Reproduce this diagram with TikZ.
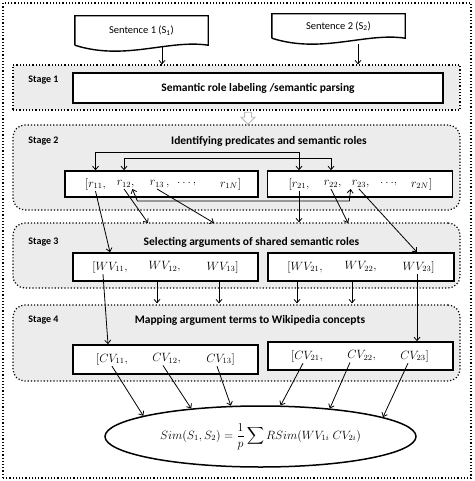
\documentclass[tikz,border=0pt]{standalone}
\usepackage{amsmath}
\usepackage{fontspec}
\setmainfont{Carlito}
\usetikzlibrary{positioning, calc, shapes.geometric, shapes.arrows, arrows.meta}
\tikzset{
    frame/.style={draw, line width=1.2pt, dotted, inner sep=0pt},
    stagebox/.style={frame, fill=gray!15, minimum width=447pt},
    stagelbl/.style={font=\bfseries\fontsize{10}{12}\selectfont},
    titlelbl/.style={font=\bfseries\fontsize{11.5}{13}\selectfont},
    rolebox/.style={draw, line width=1.5pt, fill=white, inner sep=0pt},
    entry/.style={font=\fontsize{12}{14}\selectfont, inner sep=1pt},
    sentence/.style={minimum width=133pt, inner sep=0pt, font=\fontsize{10.5}{12}\selectfont},
    ptr/.style={->, >={Straight Barb[length=3.5pt,width=6pt]}, line width=0.8pt},
    dptr/.style={ptr, <->}
}

\begin{document}
\begin{tikzpicture}[x=1pt, y=-1pt]
    \useasboundingbox (0,0) rectangle (474,481);
    \node[frame, minimum width=468pt, minimum height=475pt] (outer) at (237,240.5) {};

    % Sentences
    \node[sentence, minimum height=29pt] (s1) at (141.5,30.5) {Sentence 1 (S\textsubscript{1})};
    \node[sentence, minimum height=24pt] (s2) at (338.5,26) {Sentence 2 (S\textsubscript{2})};
    \foreach \s in {s1,s2}
        \draw[line width=1.4pt] (\s.south west) -- (\s.north west) -- (\s.north east) -- (\s.south east)
            .. controls +(-40,-6) and +(50,16) .. (\s.south west);

    % Stage 1
    \node[stagebox, minimum height=45pt] (st1) at (236.5,87.5) {};
    \node[stagelbl] (lbl1) at (43.5,80) {Stage 1};
    \node[rolebox, titlelbl, minimum width=370pt, minimum height=30pt] (srl) at (258,88) {Semantic role labeling /semantic parsing};
    \coordinate (s1out) at ($(s1.south)+(20.5,2)$);
    \coordinate (s2out) at ($(s2.south)+(19.5,6)$);
    \draw[ptr] (s1out) -- (s1out |- st1.north);
    \draw[ptr] (s2out) -- (s2out |- st1.north);

    \node[single arrow, shape border rotate=270, draw=gray!55, fill=white, line width=0.8pt,
        minimum height=12pt, inner sep=3pt, single arrow head extend=3.5pt] (flow) at (248,116.5) {};

    % Stage 2
    \node[stagebox, rounded corners=12pt, minimum height=85pt] (st2) at (236.5,167.5) {};
    \node[stagelbl] (lbl2) at (43.5,141) {Stage 2};
    \node[titlelbl] (ttl2) at (269,141) {Identifying predicates and semantic roles};
    \node[rolebox, minimum width=193pt, minimum height=26pt] (box2a) at (161.5,184) {};
    \node[rolebox, minimum width=185pt, minimum height=26pt] (box2b) at (360,184) {};
    \node[entry] (r11) at (95.5,184) {\llap{$[$}$r_{11}$\rlap{$,$}};
    \node[entry] (r12) at (124,184) {$r_{12}$\rlap{$,$}};
    \node[entry] (r13) at (157,184) {$r_{13}$\rlap{$\,,$}};
    \node[entry] (r1d) at (184,184) {$\ldots$\rlap{$\,,$}};
    \node[entry] (r1n) at (229,184) {$r_{1N}$\rlap{$]$}};
    \node[entry] (r21) at (299,184) {\llap{$[$}$r_{21}$\rlap{$,$}};
    \node[entry] (r22) at (331,184) {$r_{22}$\rlap{$,$}};
    \node[entry] (r23) at (359,184) {$r_{23}$\rlap{$,$}};
    \node[entry] (r2d) at (387,184) {$\ldots$\rlap{$,$}};
    \node[entry] (r2n) at (420,184) {$r_{2N}$\rlap{$]$}};

    % Stage 3
    \node[stagebox, rounded corners=12pt, minimum height=65pt] (st3) at (236.5,255.5) {};
    \node[stagelbl] (lbl3) at (43.5,242) {Stage 3};
    \node[titlelbl] (ttl3) at (251.5,242) {Selecting arguments of shared semantic roles};
    \node[rolebox, minimum width=185pt, minimum height=28pt] (box3a) at (165.5,267) {};
    \node[rolebox, minimum width=186pt, minimum height=28pt] (box3b) at (361,267) {};
    \node[entry] (wv11) at (110,267) {\llap{$[$}$WV_{11}$\rlap{$,$}};
    \node[entry] (wv12) at (163,267) {$WV_{12}$\rlap{$,$}};
    \node[entry] (wv13) at (221,267) {$WV_{13}$\rlap{$]$}};
    \node[entry] (wv21) at (305,267) {\llap{$[$}$WV_{21}$\rlap{$,$}};
    \node[entry] (wv22) at (359,267) {$WV_{22}$\rlap{$,$}};
    \node[entry] (wv23) at (417,267) {$WV_{23}$\rlap{$]$}};

    % Stage 4
    \node[stagebox, rounded corners=12pt, minimum height=76pt] (st4) at (236.5,343) {};
    \node[stagelbl] (lbl4) at (43.5,320) {Stage 4};
    \node[titlelbl] (ttl4) at (250,320) {Mapping argument terms to Wikipedia concepts};
    \node[rolebox, minimum width=185pt, minimum height=29pt] (box4a) at (165.5,359.5) {};
    \node[rolebox, minimum width=185pt, minimum height=28pt] (box4b) at (360.5,356) {};
    \node[entry] (cv11) at (112,359) {\llap{$[$}$CV_{11}$\rlap{$,$}};
    \node[entry] (cv12) at (165,359) {$CV_{12}$\rlap{$,$}};
    \node[entry] (cv13) at (219,359) {$CV_{13}$\rlap{$]$}};
    \node[entry] (cv21) at (307,356) {\llap{$[$}$CV_{21}$\rlap{$,$}};
    \node[entry] (cv22) at (360,356) {$CV_{22}$\rlap{$,$}};
    \node[entry] (cv23) at (413,356) {$CV_{23}$\rlap{$]$}};

    \node[draw, ellipse, line width=1.5pt, minimum width=311pt, minimum height=61pt, inner sep=0pt,
        font=\fontsize{12}{14}\selectfont] (sim) at (260.5,436.5)
        {$\displaystyle Sim(S_1,S_2)=\frac{1}{p}\sum RSim(WV_{1i}\;CV_{2i})$};

    % Shared roles
    \draw[dptr] (r11 |- box2a.north) -- ++(0,-18) -| (r21 |- box2b.north);
    \draw[dptr] (r12 |- box2a.north) -- ++(0,-12) -| (r22 |- box2b.north);
    \draw[dptr] (r12.south east) -- ++(5,12) -- ++(212,0) -- (r23.south west);

    \coordinate (t12) at (148,223);
    \coordinate (t13) at (214,223);
    \coordinate (t22) at (348,223);
    \draw[ptr] (r11.south) -- (box3a.north -| wv11);
    \draw[ptr] (r12.south) -- (t12);
    \draw[ptr] (r13.south) -- (t13);
    \draw[ptr] (r21.south) -- (st3.north -| r21);
    \draw[ptr] (r22.south) -- (t22);
    \draw[ptr] (r23.south) -- (box3b.north -| wv23);

    \foreach \w/\d in {wv12/-6, wv13/-2, wv21/-8, wv22/-7}
        \draw[ptr, shorten >=1pt] ([xshift=\d pt]\w.south |- box3a.south) -- ([xshift=\d pt]\w.south |- st4.north);
    \draw[ptr] ([xshift=-7pt]wv11.south) -- ([xshift=-4pt]box4a.north -| cv11);
    \draw[ptr] (wv23.south) -- (box4b.north -| wv23);

    % Concepts to similarity
    \draw[ptr] (cv11.south) -- (sim.170);
    \draw[ptr] ([xshift=-2pt]cv12.south) -- (sim.158);
    \draw[ptr] ([xshift=-2pt]cv13.south) -- (sim.134);
    \draw[ptr] ([xshift=-4pt]cv21.south) -- (sim.57);
    \draw[ptr] ([xshift=-10pt]cv22.south) -- (sim.22);
    \draw[ptr] ([xshift=-5pt]cv23.south) -- (sim.9);
\end{tikzpicture}
\end{document}
